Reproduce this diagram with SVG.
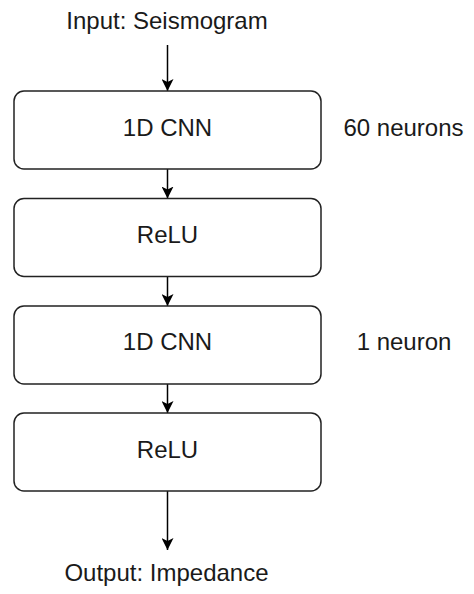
<svg xmlns="http://www.w3.org/2000/svg" width="474" height="594" viewBox="0 0 474 594">
<style>
.box{fill:#ffffff;stroke:#222222;stroke-width:1.5}
.t{font-family:"Liberation Sans",Arial,sans-serif;font-size:24px;fill:#1a1a1a;text-anchor:middle}
.edge{stroke:#000000;stroke-width:1.5;fill:none;marker-end:url(#arr)}
</style>
<defs>
<marker id="arr" viewBox="0 0 12 12" refX="12" refY="6" markerWidth="12" markerHeight="12" markerUnits="userSpaceOnUse" orient="auto">
<path d="M0,0 L12,6 L0,12 L3,6 Z" fill="#000000"/>
</marker>
</defs>
<rect width="474" height="594" fill="#ffffff"/>
<g id="connectors">
<line class="edge" x1="167.5" y1="45" x2="167.5" y2="91"/>
<line class="edge" x1="167.5" y1="169" x2="167.5" y2="198.5"/>
<line class="edge" x1="167.5" y1="277" x2="167.5" y2="306"/>
<line class="edge" x1="167.5" y1="384" x2="167.5" y2="413"/>
<line class="edge" x1="167.5" y1="491" x2="167.5" y2="550"/>
</g>
<g id="input"><text class="t" x="167" y="28.5">Input: Seismogram</text></g>
<g id="cnn1"><rect class="box" x="14" y="91" width="307" height="78" rx="10" ry="10"/><text class="t" x="167.5" y="135.5">1D CNN</text></g>
<g id="relu1"><rect class="box" x="14" y="198.5" width="307" height="78" rx="10" ry="10"/><text class="t" x="167.5" y="243">ReLU</text></g>
<g id="cnn2"><rect class="box" x="14" y="306" width="307" height="78" rx="10" ry="10"/><text class="t" x="167.5" y="350">1D CNN</text></g>
<g id="relu2"><rect class="box" x="14" y="413" width="307" height="78" rx="10" ry="10"/><text class="t" x="167.5" y="458">ReLU</text></g>
<g id="label60"><text class="t" x="403.5" y="135.5">60 neurons</text></g>
<g id="label1"><text class="t" x="404" y="350">1 neuron</text></g>
<g id="output"><text class="t" x="166.5" y="580.5">Output: Impedance</text></g>
</svg>
